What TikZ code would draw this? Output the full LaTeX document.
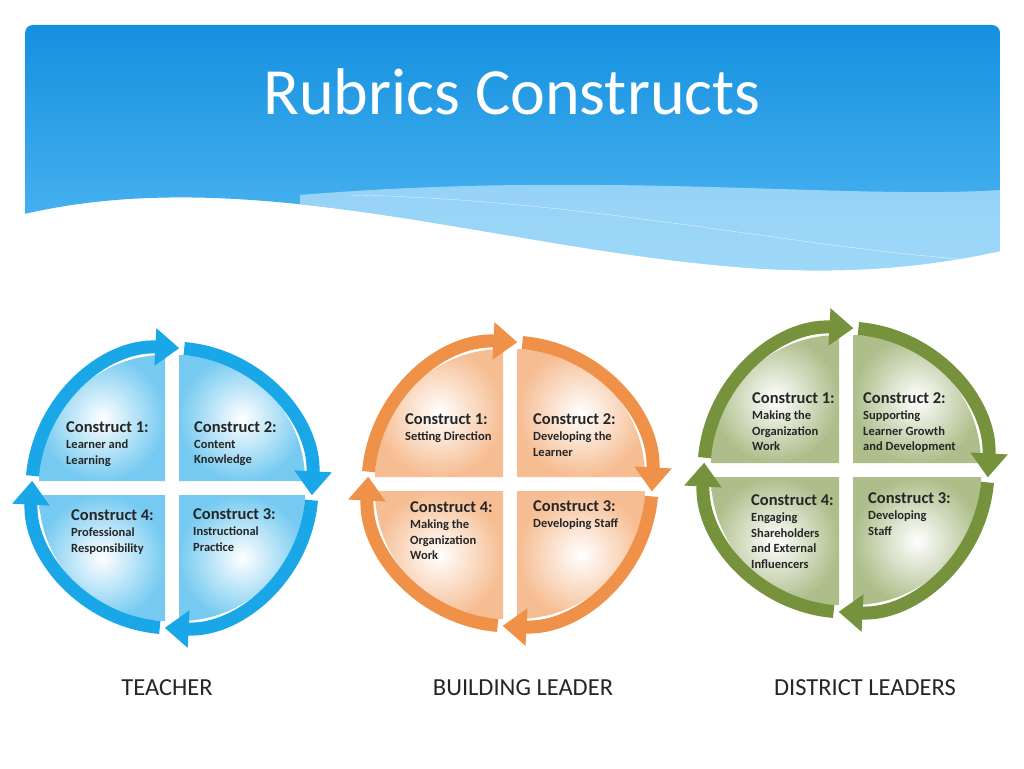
\documentclass[tikz,border=0pt]{standalone}
\usepackage{fontspec}
\setmainfont{Carlito}
\usetikzlibrary{arrows.meta}
\definecolor{teacherblue}{HTML}{1AA7E8}
\definecolor{leaderorange}{HTML}{F0914A}
\definecolor{districtgreen}{HTML}{76923C}
\definecolor{headtop}{HTML}{1590DF}
\definecolor{headbot}{HTML}{62C4F8}
\tikzset{
  ctitle/.style={anchor=north west,font=\bfseries\fontsize{16.5}{17}\selectfont,text=black!85,inner sep=0pt},
  ctext/.style={anchor=north west,align=left,font=\bfseries\fontsize{12.5}{15.5}\selectfont,text=black!85,inner sep=0pt},
  rolelabel/.style={font=\fontsize{24.5}{26}\selectfont,text=black!85}
}
% #1,#2 centre, #3 radius, #4 colour
\newcommand\constructcycle[4]{%
  \begin{scope}[shift={(#1,#2)},y=1pt]
    \foreach \a in {0,90,180,270}{
      \shade[inner color=white,outer color=#4!60]
        (\a+45:9.9) -- ++(\a:#3-14) arc[start angle=\a,end angle=\a+90,radius=#3-14] -- cycle;
      \draw[#4,line width=13pt,-{Triangle[width=36pt,length=24pt]}]
        (\a+85:#3) arc[start angle=\a+85,end angle=\a-3,radius=#3];
    }
  \end{scope}}
\begin{document}
\begin{tikzpicture}[x=1pt,y=-1pt]
  \useasboundingbox (0,0) rectangle (1024,768);
  \fill[white] (0,0) rectangle (1024,768);
  % header
  \begin{scope}
    \clip (20,215) .. controls (250,160) and (500,250) .. (750,268)
      .. controls (870,276) and (950,262) .. (1005,250) -- (1005,20) -- (20,20) -- cycle;
    \shade[top color=headtop,bottom color=headbot,rounded corners=8pt] (25,25) rectangle (1000,330);
    \fill[white!70!headbot,opacity=0.6] (300,195) .. controls (600,170) and (850,200) .. (1000,190) -- (1000,340) -- (300,340) -- cycle;
    \draw[white,opacity=0.7] (350,195) .. controls (600,200) and (800,250) .. (1000,262);
  \end{scope}
  \node (title) at (512,92) {\color{white}\fontsize{66}{68}\selectfont Rubrics Constructs};
  % cycles
  \constructcycle{172}{488}{140}{teacherblue}
  \constructcycle{510}{484}{142}{leaderorange}
  \constructcycle{846}{470}{142}{districtgreen}
  % teacher
  \node[ctitle] (t1) at (66,421) {Construct 1:};
  \node[ctext] (t1b) at (66,440) {Learner and\\Learning};
  \node[ctitle] (t2) at (194,421) {Construct 2:};
  \node[ctext] (t2b) at (194,440) {Content\\Knowledge};
  \node[ctitle] (t4) at (71,509) {Construct 4:};
  \node[ctext] (t4b) at (71,528) {Professional\\Responsibility};
  \node[ctitle] (t3) at (193,508) {Construct 3:};
  \node[ctext] (t3b) at (193,527) {Instructional\\Practice};
  % building leader
  \node[ctitle] (b1) at (405,413) {Construct 1:};
  \node[ctext] (b1b) at (405,432) {Setting Direction};
  \node[ctitle] (b2) at (533,413) {Construct 2:};
  \node[ctext] (b2b) at (533,432) {Developing the\\Learner};
  \node[ctitle] (b4) at (410,501) {Construct 4:};
  \node[ctext] (b4b) at (410,520) {Making the\\Organization\\Work};
  \node[ctitle] (b3) at (533,500) {Construct 3:};
  \node[ctext] (b3b) at (533,519) {Developing Staff};
  % district leaders
  \node[ctitle] (d1) at (752,392) {Construct 1:};
  \node[ctext] (d1b) at (752,411) {Making the\\Organization\\Work};
  \node[ctitle] (d2) at (863,392) {Construct 2:};
  \node[ctext] (d2b) at (863,411) {Supporting\\Learner Growth\\and Development};
  \node[ctitle] (d4) at (751,494) {Construct 4:};
  \node[ctext] (d4b) at (751,513) {Engaging\\Shareholders\\and External\\Influencers};
  \node[ctitle] (d3) at (868,492) {Construct 3:};
  \node[ctext] (d3b) at (868,511) {Developing\\Staff};
  % role labels
  \node[rolelabel] (teacher) at (167,688) {TEACHER};
  \node[rolelabel] (building) at (523,688) {BUILDING LEADER};
  \node[rolelabel] (district) at (865,688) {DISTRICT LEADERS};
\end{tikzpicture}
\end{document}
